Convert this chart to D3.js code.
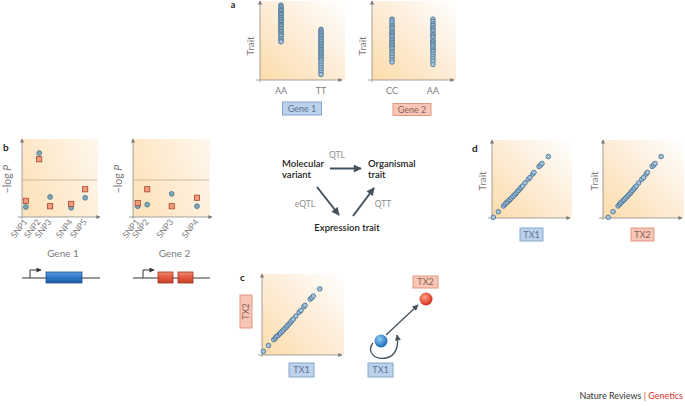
<!DOCTYPE html>
<html><head><meta charset="utf-8">
<script src="https://cdn.jsdelivr.net/npm/d3@7"></script>
<style>body{margin:0;background:#fff}svg{display:block;font-family:Lato,"Open Sans",sans-serif}</style>
</head><body><svg id="c" width="685" height="406"></svg>
<script>
// ---------- DATA ----------
const genotypes1 = ["AA", "TT"];
const genotypes2 = ["CC", "AA"];
const gene1AA = [96, 94, 92, 90, 89, 87, 85, 84, 82, 80, 78, 77, 75, 73, 71, 70, 68, 66, 64, 62, 60, 58, 56, 53, 51, 49];
const gene1TT = [65, 63, 61, 59, 57, 55, 53, 51, 49, 47, 45, 43, 41, 39, 37, 35, 33, 31, 29, 27, 25, 22, 19, 16, 13, 10, 7];
const gene2CC = [78, 76, 73, 70, 68, 66, 63, 61, 59, 57, 55, 52, 50, 48, 46, 44, 42, 40, 37, 35, 32, 29, 26, 23];
const gene2AA = [78, 75, 72, 70, 67, 65, 63, 60, 58, 56, 54, 51, 49, 47, 45, 43, 40, 38, 36, 33, 30, 27, 24, 20];

const snps1 = ["SNP1", "SNP2", "SNP3", "SNP4", "SNP5"];
const snpPos1 = [5, 22, 36, 63, 81];
const eqtl1 = [1.3, 8.3, 2.6, 1.2, 2.5];   // circles
const qtl1 = [2.1, 7.5, 1.4, 1.7, 3.6];    // squares
const snps2 = ["SNP1", "SNP2", "SNP3", "SNP4"];
const snpPos2 = [6, 18, 49, 81];
const eqtl2 = [1.4, 1.6, 3.0, 1.4];
const qtl2 = [1.8, 3.6, 1.4, 2.5];
const threshold = 4.8;

const txX = [1.7, 8.1, 14.7, 16.7, 17.9, 19.9, 21.8, 23.1, 25.0, 26.9, 28.8, 30.8, 32.1, 34.0, 35.9, 37.2, 39.1, 42.3, 46.5, 48.7, 52.2, 53.8, 60.3, 62.2, 64.1, 72.2];
const txY = [0.9, 8.3, 15.8, 17.8, 19.7, 21.1, 23.0, 24.3, 26.3, 28.3, 30.3, 32.2, 34.2, 36.2, 38.2, 40.1, 42.1, 46.1, 50.9, 53.3, 57.9, 59.9, 67.8, 69.7, 71.7, 80.9];

// ---------- DRAW ----------
const svg = d3.select("#c");
const defs = svg.append("defs");
const bg = defs.append("linearGradient").attr("id", "bg").attr("x1", 0).attr("y1", 1).attr("x2", 1).attr("y2", 0);
bg.append("stop").attr("offset", 0).attr("stop-color", "#fcdcaa");
bg.append("stop").attr("offset", 0.55).attr("stop-color", "#fdeedb");
bg.append("stop").attr("offset", 1).attr("stop-color", "#ffffff");
const bg2 = defs.append("linearGradient").attr("id", "bg2").attr("x1", 0).attr("y1", 0.6).attr("x2", 1).attr("y2", 0.2);
bg2.append("stop").attr("offset", 0).attr("stop-color", "#fde3bd");
bg2.append("stop").attr("offset", 1).attr("stop-color", "#fff6ea");
const bl = defs.append("radialGradient").attr("id", "bl").attr("cx", 0.4).attr("cy", 0.35).attr("r", 0.65);
bl.append("stop").attr("offset", 0).attr("stop-color", "#8fd0f5");
bl.append("stop").attr("offset", 1).attr("stop-color", "#1a66b8");
const rd = defs.append("radialGradient").attr("id", "rd").attr("cx", 0.4).attr("cy", 0.35).attr("r", 0.65);
rd.append("stop").attr("offset", 0).attr("stop-color", "#ff9f86");
rd.append("stop").attr("offset", 1).attr("stop-color", "#d42f1a");
const gb = defs.append("linearGradient").attr("id", "gb").attr("x1", 0).attr("y1", 0).attr("x2", 0).attr("y2", 1);
gb.append("stop").attr("offset", 0).attr("stop-color", "#5a9be0");
gb.append("stop").attr("offset", 0.5).attr("stop-color", "#2f78c8");
gb.append("stop").attr("offset", 1).attr("stop-color", "#1d5ea8");
const gr = defs.append("linearGradient").attr("id", "gr").attr("x1", 0).attr("y1", 0).attr("x2", 0).attr("y2", 1);
gr.append("stop").attr("offset", 0).attr("stop-color", "#f08a70");
gr.append("stop").attr("offset", 0.5).attr("stop-color", "#e0573d");
gr.append("stop").attr("offset", 1).attr("stop-color", "#c8442c");

function mk(id, col, w, h) {
  defs.append("marker").attr("id", id).attr("viewBox", "0 0 10 10").attr("refX", 9).attr("refY", 5)
    .attr("markerWidth", w).attr("markerHeight", h).attr("orient", "auto").attr("markerUnits", "userSpaceOnUse")
    .append("path").attr("d", "M0,0L10,5L0,10z").attr("fill", col);
}
mk("ax", "#777", 5, 4);
mk("ar", "#44535e", 9, 8);
mk("ar2", "#44535e", 7, 6);
mk("blk", "#333", 6, 5);

const axisCol = "#8a8a8a";
function frame(x0, yb, x1, yt, fill, bgx1) {
  svg.append("rect").attr("x", x0).attr("y", yt).attr("width", (bgx1 || x1) - x0).attr("height", yb - yt).attr("fill", fill || "url(#bg)");
  svg.append("line").attr("x1", x0).attr("y1", yb + 2).attr("x2", x0).attr("y2", yt)
    .attr("stroke", axisCol).attr("stroke-width", 0.8).attr("marker-end", "url(#ax)");
  svg.append("line").attr("x1", x0 - 4).attr("y1", yb).attr("x2", x1).attr("y2", yb)
    .attr("stroke", axisCol).attr("stroke-width", 0.8).attr("marker-end", "url(#ax)");
}
function label(x, y, t, opt = {}) {
  const e = svg.append("text").attr("x", x).attr("y", y).text(t)
    .attr("font-size", opt.size || 9).attr("fill", opt.fill || "#7d7d7d")
    .attr("text-anchor", opt.anchor || "middle").attr("font-weight", opt.weight || "normal");
  if (opt.rot != null) e.attr("transform", `rotate(${opt.rot},${x},${y})`);
  if (opt.italic) e.attr("font-style", "italic");
  return e;
}
function box(cx, cy, w, h, t, kind, rot) {
  const g = svg.append("g").attr("transform", `translate(${cx},${cy}) rotate(${rot || 0})`);
  g.append("rect").attr("x", -w / 2).attr("y", -h / 2).attr("width", w).attr("height", h)
    .attr("fill", kind === "b" ? "#bcd1ec" : "#f8c6b6")
    .attr("stroke", kind === "b" ? "#86a6cf" : "#e3987f").attr("stroke-width", 1);
  g.append("text").attr("x", 0).attr("y", 3.3).attr("text-anchor", "middle").attr("font-size", 9)
    .attr("fill", kind === "b" ? "#5f7390" : "#8a5f55").text(t);
}
function dots(xs, ys, sx, sy) {
  svg.append("g").selectAll("circle").data(xs.map((d, i) => [d, ys[i]])).join("circle")
    .attr("cx", d => sx(d[0])).attr("cy", d => sy(d[1])).attr("r", 2.3)
    .attr("fill", "#a8c4dc").attr("stroke", "#3d6b8f").attr("stroke-width", 0.8);
}

// Panel a
label(233, 8, "a", { size: 9, weight: "bold", fill: "#222" });
const ya = d3.scaleLinear().domain([0, 100]).range([80, 2]);
const xa1 = d3.scalePoint().domain(genotypes1).range([260, 342]).padding(0.525);
const xa2 = d3.scalePoint().domain(genotypes2).range([372, 453]).padding(0.49);
frame(260, 80, 342, 1, null, 345);
frame(372, 80, 454, 1, null, 456);
[[xa1, "AA", gene1AA], [xa1, "TT", gene1TT], [xa2, "CC", gene2CC], [xa2, "AA", gene2AA]].forEach(([s, k, v]) => {
  dots(v.map(() => k), v, s, ya);
});
genotypes1.forEach(g => label(xa1(g), 94, g));
genotypes2.forEach(g => label(xa2(g), 94, g));
label(254, 46, "Trait", { rot: -90, size: 10 });
label(366, 46, "Trait", { rot: -90, size: 10 });
box(302, 108.5, 39, 13, "Gene 1", "b");
box(412, 109.5, 38, 12, "Gene 2", "r");

// Panel b
label(3, 151, "b", { size: 10, weight: "bold", fill: "#222", anchor: "start" });
const yb = d3.scaleLinear().domain([0, 10]).range([217, 140]);
function snpPlot(x0, x1, names, pos, circ, sq, geneName) {
  const xs = d3.scaleLinear().domain([0, 100]).range([x0, x1]);
  frame(x0, 217, x1, 139, "url(#bg2)", x1 - 2);
  svg.append("line").attr("x1", x0).attr("x2", x1 - 3).attr("y1", yb(threshold)).attr("y2", yb(threshold))
    .attr("stroke", "#c9ae8e").attr("stroke-width", 0.8);
  svg.append("g").selectAll("circle").data(pos).join("circle")
    .attr("cx", d => xs(d)).attr("cy", (d, i) => yb(circ[i])).attr("r", 2.4)
    .attr("fill", "#7ea9bb").attr("stroke", "#3f6f86").attr("stroke-width", 0.8);
  svg.append("g").selectAll("rect").data(pos).join("rect")
    .attr("x", d => xs(d) - 2.6).attr("y", (d, i) => yb(sq[i]) - 2.6).attr("width", 5.2).attr("height", 5.2)
    .attr("fill", "#ef9c7d").attr("stroke", "#a8462c").attr("stroke-width", 0.8);
  names.forEach((n, i) => label(xs(pos[i]) + 2, 222, n, { anchor: "end", rot: -52, size: 8.5 }));
  label(x0 - 11, 179, "−log ", { rot: -90, size: 10.5 }).append("tspan").attr("font-style", "italic").text("P");
  label((x0 + x1) / 2 + 2, 257, geneName, { size: 10 });
}
snpPlot(22, 100, snps1, snpPos1, eqtl1, qtl1, "Gene 1");
snpPlot(133, 212, snps2, snpPos2, eqtl2, qtl2, "Gene 2");
// gene diagrams
function bent(x, y) {
  svg.append("path").attr("d", `M${x},${y}V${y - 8}H${x + 11}`).attr("fill", "none")
    .attr("stroke", "#333").attr("stroke-width", 1).attr("marker-end", "url(#blk)");
}
svg.append("line").attr("x1", 22).attr("x2", 100).attr("y1", 278).attr("y2", 278).attr("stroke", "#333").attr("stroke-width", 1);
bent(30, 278);
svg.append("rect").attr("x", 46).attr("y", 272).attr("width", 36).attr("height", 11).attr("fill", "url(#gb)").attr("stroke", "#1f4f85").attr("stroke-width", 0.8);
svg.append("line").attr("x1", 133).attr("x2", 210).attr("y1", 278).attr("y2", 278).attr("stroke", "#333").attr("stroke-width", 1);
bent(143, 278);
[[158, 15], [178, 15]].forEach(([x, w]) =>
  svg.append("rect").attr("x", x).attr("y", 272).attr("width", w).attr("height", 11).attr("fill", "url(#gr)").attr("stroke", "#9c3520").attr("stroke-width", 0.8));

// Center diagram
label(282, 167, "Molecular", { anchor: "start", size: 9.5, weight: 600, fill: "#222" });
label(282, 177.5, "variant", { anchor: "start", size: 9.5, weight: 600, fill: "#222" });
label(368, 167, "Organismal", { anchor: "start", size: 9.5, weight: 600, fill: "#222" });
label(368, 177.5, "trait", { anchor: "start", size: 9.5, weight: 600, fill: "#222" });
label(347, 231, "Expression trait", { size: 9.5, weight: 600, fill: "#222" });
label(337, 158, "QTL", { size: 8.5, fill: "#8c8c8c" });
label(305, 207, "eQTL", { size: 8.5, fill: "#8c8c8c" });
label(383, 207, "QTT", { size: 8.5, fill: "#8c8c8c" });
function arrow(x1, y1, x2, y2, m, w) {
  svg.append("line").attr("x1", x1).attr("y1", y1).attr("x2", x2).attr("y2", y2)
    .attr("stroke", "#44535e").attr("stroke-width", w || 2).attr("marker-end", `url(#${m || "ar"})`);
}
arrow(330, 168.5, 361, 168.5);
arrow(317, 187, 339, 215);
arrow(353, 216, 374, 188);

// Panel d
label(472, 152, "d", { size: 10, weight: "bold", fill: "#222", anchor: "start" });
const yd = d3.scaleLinear().domain([0, 100]).range([218, 142]);
const xd1 = d3.scaleLinear().domain([0, 100]).range([492, 570]);
const xd2 = d3.scaleLinear().domain([0, 100]).range([607, 682]);
frame(492, 218, 570, 140, null, 572);
frame(603, 218, 682, 140, null, 684);
dots(txX, txY, xd1, yd);
dots(txX, txY, xd2, yd);
label(486, 181, "Trait", { rot: -90, size: 10 });
label(598, 181, "Trait", { rot: -90, size: 10 });
box(531.5, 234.5, 23, 13, "TX1", "b");
box(642.5, 234.5, 23, 13, "TX2", "r");

// Panel c
label(240, 281, "c", { size: 10, weight: "bold", fill: "#222", anchor: "start" });
const xc = d3.scaleLinear().domain([0, 100]).range([262, 342]);
const yc = d3.scaleLinear().domain([0, 100]).range([352, 274]);
frame(262, 355, 342, 274, null, 344);
dots(txX, txY, xc, yc);
box(246, 311.5, 33, 12, "TX2", "r", -90);
box(301.5, 370, 25, 14, "TX1", "b");
// regulatory cartoon
box(425.5, 282, 25, 12, "TX2", "r");
box(380.5, 370, 25, 14, "TX1", "b");
arrow(386, 335, 418, 305, "ar2", 1.3);
svg.append("path").attr("d", "M373,343 C366,352 375,360 386,358 C396,356 399,346 397,335")
  .attr("fill", "none").attr("stroke", "#44535e").attr("stroke-width", 1.3).attr("marker-end", "url(#ar2)");
svg.append("circle").attr("cx", 381).attr("cy", 341).attr("r", 6.5).attr("fill", "url(#bl)");
svg.append("circle").attr("cx", 426).attr("cy", 299).attr("r", 6.5).attr("fill", "url(#rd)");

// Footer
const ft = svg.append("text").attr("x", 683).attr("y", 399).attr("text-anchor", "end").attr("font-size", 9);
ft.append("tspan").attr("fill", "#333").text("Nature Reviews ");
ft.append("tspan").attr("fill", "#d6342a").text("| Genetics");
</script></body></html>
